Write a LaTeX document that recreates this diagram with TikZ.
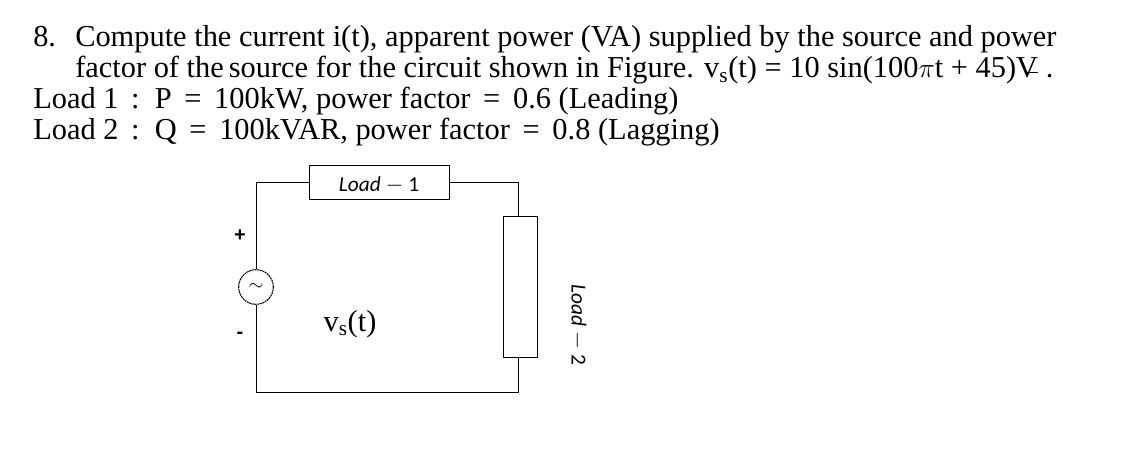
\documentclass[tikz,border=0pt]{standalone}
\usepackage{fontspec}
\setmainfont{Liberation Serif}
\newfontfamily\carl{Carlito}
\newfontfamily\lsans{Liberation Sans}
\begin{document}
\begin{tikzpicture}[x=0.75pt,y=-0.75pt,
  txt/.style={anchor=base west,inner sep=0pt,font=\fontsize{22.8}{26}\selectfont},
  box/.style={draw,line width=0.7pt,inner sep=0pt},
  wire/.style={line width=0.7pt},
  lbl/.style={font=\carl\fontsize{16}{18}\selectfont,inner sep=0pt}]
\useasboundingbox (0,0) rectangle (1146,456);
\node[txt] (l1a) at (33,47) {8.};
\node[txt] (l1) at (75,47) {Compute the current i(t), apparent power (VA) supplied by the source and power};
\node[txt] (l2) at (75,78) {factor of the\,source for the circuit shown in Figure. v\textsubscript{s}(t) = 10 sin(100$\pi$t + 45)V\llap{\raisebox{0.35ex}{\rule{0.45em}{0.6pt}}} .};
\node[txt] (l3) at (33,109) {Load 1 \,:\, P \,=\, 100kW, power factor \,=\, 0.6 (Leading)};
\node[txt] (l4) at (33,140) {Load 2 \,:\, Q \,=\, 100kVAR, power factor \,=\, 0.8 (Lagging)};
% circuit
\coordinate (tl) at (256,182);
\coordinate (bl) at (256,392);
\coordinate (tr) at (518,182);
\coordinate (br) at (518,392);
\node[box,minimum width=105pt,minimum height=25.5pt] (L1) at (379,182) {};
\node[lbl] (L1t) at (379,185) {\itshape Load\upshape\ $-$ 1};
\node[box,minimum width=25.5pt,minimum height=105.75pt] (L2) at (520,286.5) {};
\node[lbl,rotate=-90] (L2t) at (578,325) {\itshape Load\upshape\ $-$ 2};
\node[draw,circle,dashed,dash pattern=on 1.5pt off 0.5pt,line width=0.8pt,minimum size=26pt,inner sep=0pt,font=\Large] (S) at (256,287) {$\sim$};
\draw[wire] (S.north) -- (tl) -- (L1.west);
\draw[wire] (L1.east) -- (tr) -- (tr|-L2.north);
\draw[wire] (tr|-L2.south) -- (br) -- (bl) -- (S.south);
\node[font=\lsans\bfseries\fontsize{15}{17}\selectfont] (plus) at (240,236) {+};
\node[font=\lsans\bfseries\fontsize{15}{17}\selectfont] (minus) at (240,335) {-};
\node[font=\fontsize{22.8}{26}\selectfont] (vs) at (350,324) {v\textsubscript{s}(t)};
\end{tikzpicture}
\end{document}
